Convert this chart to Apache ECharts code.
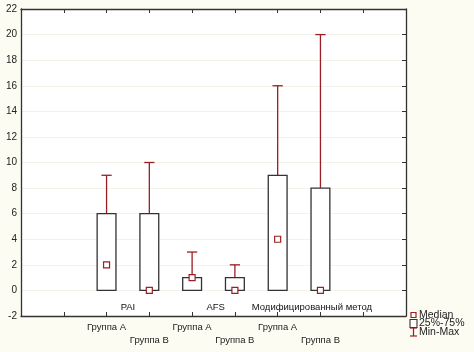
<!DOCTYPE html>
<html>
<head>
<meta charset="utf-8">
<script src="https://cdn.jsdelivr.net/npm/echarts@6/dist/echarts.min.js"></script>
<style>
  html, body { margin: 0; padding: 0; background: #fdfcf3; }
  #chart { width: 474px; height: 352px; }
</style>
</head>
<body>
<div id="chart"></div>
<script>
// ==================== DATA ====================
const groupLabels = ['Группа А', 'Группа В', 'Группа А', 'Группа В', 'Группа А', 'Группа В'];
const boxX = [2, 3, 4, 5, 6, 7];
// [min, q1, median, q3, max]
const boxStats = [
  [0, 0, 2, 6, 9],
  [0, 0, 0, 6, 10],
  [0, 0, 1, 1, 3],
  [0, 0, 0, 1, 2],
  [0, 0, 4, 9, 16],
  [0, 0, 0, 8, 20]
];
const methodNames = ['PAI', 'AFS', 'Модифицированный метод'];
const methodX = [2.5, 4.55, 6.8];
const methodY = -1.3;
const yTicks = { min: -2, max: 22, step: 2 };

const RED = '#9a1f24', DARK = '#333', FONT = 'Liberation Sans, Arial, sans-serif';

const chart = echarts.init(document.getElementById('chart'));

function renderBox(params, api) {
  const x = api.value(0);
  const c = v => api.coord([x, v]);
  const lo = c(api.value(1)), q1 = c(api.value(2)), med = c(api.value(3)), q3 = c(api.value(4)), hi = c(api.value(5));
  const unit = api.size([1, 0])[0];
  const bw = unit * 0.44, cw = unit * 0.24;
  const cx = q1[0];
  const red = { stroke: RED, lineWidth: 1.3 };
  return {
    type: 'group',
    children: [
      { type: 'line', shape: { x1: cx, y1: q3[1], x2: cx, y2: hi[1] }, style: red },
      { type: 'line', shape: { x1: cx - cw / 2, y1: hi[1], x2: cx + cw / 2, y2: hi[1] }, style: red },
      { type: 'line', shape: { x1: cx, y1: q1[1], x2: cx, y2: lo[1] }, style: red },
      { type: 'rect', shape: { x: cx - bw / 2, y: q3[1], width: bw, height: q1[1] - q3[1] },
        style: { fill: '#fff', stroke: DARK, lineWidth: 1.3 } },
      { type: 'rect', shape: { x: cx - 3, y: med[1] - 3, width: 6, height: 6 },
        style: { fill: '#fff', stroke: RED, lineWidth: 1.2 } }
    ]
  };
}

// legend drawn by hand (icons mimic the box parts)
const legendItems = [];
const lx = 411, ly = 315, lgap = 8.5;
legendItems.push(
  { type: 'rect', shape: { x: lx, y: ly - 2.5, width: 5, height: 5 }, style: { fill: '#fff', stroke: RED, lineWidth: 1.2 } },
  { type: 'rect', shape: { x: lx - 1, y: ly + lgap - 4, width: 7, height: 8 }, style: { fill: '#fff', stroke: DARK, lineWidth: 1.1 } },
  { type: 'line', shape: { x1: lx - 1, y1: ly + 2 * lgap - 4, x2: lx + 6, y2: ly + 2 * lgap - 4 }, style: { stroke: RED, lineWidth: 1.2 } },
  { type: 'line', shape: { x1: lx + 2.5, y1: ly + 2 * lgap - 4, x2: lx + 2.5, y2: ly + 2 * lgap + 4 }, style: { stroke: RED, lineWidth: 1.2 } },
  { type: 'line', shape: { x1: lx - 1, y1: ly + 2 * lgap + 4, x2: lx + 6, y2: ly + 2 * lgap + 4 }, style: { stroke: RED, lineWidth: 1.2 } }
);
['Median', '25%-75%', 'Min-Max'].forEach((t, i) => {
  legendItems.push({ type: 'text', x: lx + 8, y: ly + i * lgap,
    style: { text: t, fontSize: 10.5, fontFamily: FONT, fill: '#222', verticalAlign: 'middle' } });
});

chart.setOption({
  backgroundColor: '#fdfcf3',
  animation: false,
  grid: { left: 21, right: 68, top: 9, bottom: 36, show: true, backgroundColor: '#fff', borderWidth: 0 },
  xAxis: [
    { type: 'value', min: 0, max: 9, interval: 1, position: 'bottom',
      axisLine: { onZero: false, lineStyle: { color: DARK, width: 1.3 } },
      axisTick: { inside: true, length: 4, lineStyle: { color: DARK } },
      splitLine: { show: false },
      axisLabel: { fontSize: 9.5, fontFamily: FONT, color: '#222', margin: 5, lineHeight: 13,
        showMinLabel: false, showMaxLabel: false,
        formatter: v => {
          const i = boxX.indexOf(v);
          if (i < 0) return '';
          return (i % 2 ? '\n' : '') + groupLabels[i];
        } } },
    { type: 'value', min: 0, max: 9, interval: 1, position: 'top',
      axisLine: { onZero: false, lineStyle: { color: DARK, width: 1.3 } },
      axisTick: { inside: true, length: 4, lineStyle: { color: DARK } },
      axisLabel: { show: false }, splitLine: { show: false } }
  ],
  yAxis: [
    { type: 'value', min: yTicks.min, max: yTicks.max, interval: yTicks.step, position: 'left',
      axisLine: { show: true, onZero: false, lineStyle: { color: DARK, width: 1.3 } },
      axisTick: { show: false },
      splitLine: { show: true, lineStyle: { color: '#f3f3ec', width: 1 } },
      axisLabel: { fontSize: 10, fontFamily: FONT, color: '#222', margin: 4 } },
    { type: 'value', min: yTicks.min, max: yTicks.max, interval: yTicks.step, position: 'right',
      axisLine: { show: true, onZero: false, lineStyle: { color: DARK, width: 1.3 } },
      axisTick: { show: true, inside: true, length: 4, lineStyle: { color: DARK } },
      axisLabel: { show: false }, splitLine: { show: false } }
  ],
  series: [
    { type: 'custom', renderItem: renderBox, encode: { x: 0, y: [1, 2, 3, 4, 5] },
      data: boxX.map((x, i) => [x].concat(boxStats[i])), z: 3 },
    { type: 'scatter', symbolSize: 1, silent: true, itemStyle: { opacity: 0 },
      data: methodX.map((x, i) => ({ value: [x, methodY], name: methodNames[i] })),
      label: { show: true, position: 'inside', formatter: p => p.name,
        fontSize: 9.5, fontFamily: FONT, color: '#111', opacity: 1 } }
  ],
  graphic: legendItems
});
</script>
</body>
</html>
